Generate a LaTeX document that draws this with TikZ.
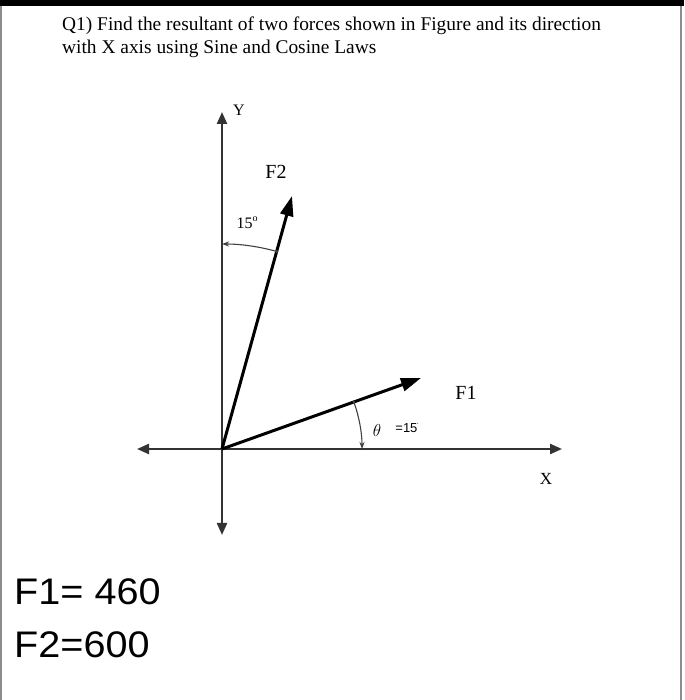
\documentclass[tikz,border=0pt]{standalone}
\usepackage{fontspec}
\setmainfont{Liberation Serif}
\newfontfamily\appsans{Liberation Sans}
\usetikzlibrary{arrows.meta,calc}
\tikzset{
  axisline/.style={line width=2.2pt, draw=black!80, -{Triangle[length=12pt,width=10pt]}},
  forceline/.style={line width=3pt, draw=black, -{Triangle[length=20pt,width=13pt]}},
  anglearc/.style={line width=1.1pt, draw=black!75, -{Stealth[length=7pt,width=5pt]}},
  lbl/.style={inner sep=0pt, font=\fontsize{20}{24}\selectfont},
  title/.style={inner sep=0pt, anchor=base west, font=\fontsize{19.4}{23}\selectfont},
  given/.style={inner sep=0pt, anchor=base west, xscale=1.07, font=\appsans\fontsize{37}{44}\selectfont}
}
\begin{document}
\begin{tikzpicture}[x=1pt,y=1pt]
\useasboundingbox (0,0) rectangle (684,700);
\fill[white] (0,0) rectangle (684,700);
\fill[black] (0,694) rectangle (684,700);
\fill[black!45] (0,0) rectangle (2,694);
\fill[black!45] (680,0) rectangle (682,694);
% title
\node[title] (t1) at (62,669) {Q1) Find the resultant of two forces shown in Figure and its direction};
\node[title] (t2) at (62,646) {with X axis using Sine and Cosine Laws};
% axes
\coordinate (O) at (222,251);
\coordinate (ytop) at (222,588);
\coordinate (ybot) at (222,165);
\coordinate (xl) at (137,251);
\coordinate (xr) at (562,251);
\draw[axisline] (O) -- (ytop);
\draw[axisline] (O) -- (ybot);
\draw[axisline] (O) -- (xl);
\draw[axisline] (O) -- (xr);
% forces
\coordinate (F2tip) at (292,504);
\coordinate (F1tip) at (421,322);
\draw[forceline] (O) -- (F2tip);
\draw[forceline] (O) -- (F1tip);
% angle arcs
\draw[anglearc] ($(O)+(74.5:205)$) arc[start angle=74.5, end angle=90, radius=205];
\fill[black!75] ($(O)+(74.5:205)$) circle (1.6pt);
\draw[anglearc] ($(O)+(19.7:140)$) arc[start angle=19.7, end angle=0, radius=140];
\fill[black!75] ($(O)+(19.7:140)$) circle (1.3pt);
% labels
\node[lbl, font=\fontsize{16}{19}\selectfont] (ylab) at (239,590) {Y};
\node[lbl] (f2lab) at (276,528) {F2};
\node[lbl, font=\fontsize{16}{19}\selectfont] (a15) at (247,477) {15\raisebox{0.45em}{\fontsize{10}{11}\selectfont o}};
\node[lbl] (f1lab) at (466,307) {F1};
\node[lbl, font=\itshape\fontsize{17}{20}\selectfont] (th) at (377,269) {$\theta$};
\node[lbl, font=\appsans\fontsize{13}{15}\selectfont] (th15) at (407,272) {=15\raisebox{0.35em}{\fontsize{6}{7}\selectfont\textquotesingle}};
\node[lbl, font=\fontsize{17}{20}\selectfont] (xlab) at (546,221) {X};
% given values
\node[given] (g1) at (14,95) {F1= 460};
\node[given] (g2) at (14,42) {F2=600};
\end{tikzpicture}
\end{document}
